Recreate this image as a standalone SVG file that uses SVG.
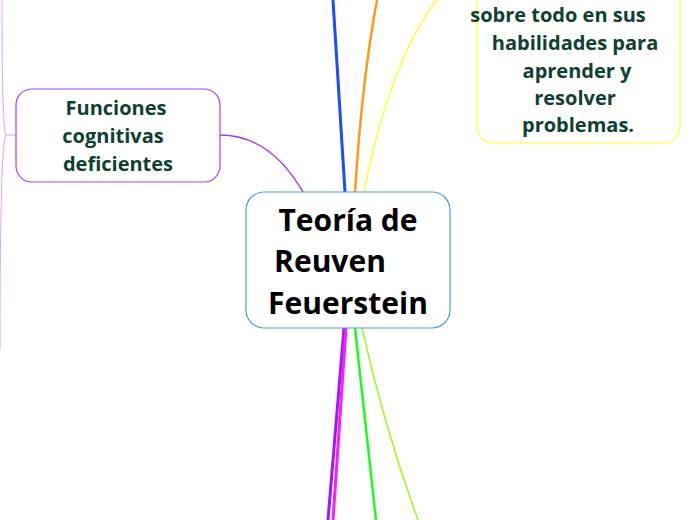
<svg xmlns="http://www.w3.org/2000/svg" width="697" height="520" viewBox="0 0 697 520">
<style>
.t{font-family:"Open Sans","Noto Sans",sans-serif;font-weight:bold;fill:#0d4131;text-anchor:middle}
.s{font-size:20px}
.b{font-size:30px;fill:#000}
.c{fill:none}
</style>
<rect width="697" height="520" fill="#fff"/>
<g id="connectors">
<path class="c" d="M345 192 L333 0" stroke="#1a4dff" stroke-width="3"/>
<path class="c" d="M355 192 Q362 80 377 0" stroke="#ff9a1a" stroke-width="2.5"/>
<path class="c" d="M364 192 Q390 60 437 0" stroke="#ffff33" stroke-width="1.5"/>
<path class="c" d="M303 192 Q270 135 220 135" stroke="#a840f0" stroke-width="1.5"/>
<path class="c" d="M344 328 L328 520" stroke="#9a1aff" stroke-width="3"/>
<path class="c" d="M346 328 L333 520" stroke="#ff1aff" stroke-width="3"/>
<path class="c" d="M355 328 L376 520" stroke="#1aff1a" stroke-width="2.5"/>
<path class="c" d="M362 328 Q385 430 418 520" stroke="#99ff1a" stroke-width="1.5"/>
<path class="c" d="M16 135 L6 135 Q2 130 2 0 M6 135 Q0 140 0 350" stroke="#d9a6f5" stroke-width="1"/>
</g>
<g id="central">
<rect x="246" y="192" width="204" height="136" rx="18" fill="#fff" stroke="#4a9ee0" stroke-width="1.2"/>
<text class="t b" x="348" y="231">Teoría de</text>
<text class="t b" x="330" y="272">Reuven</text>
<text class="t b" x="348" y="314">Feuerstein</text>
</g>
<g id="funciones">
<rect x="16" y="89" width="204" height="93" rx="16" fill="#fff" stroke="#a840f0" stroke-width="1.2"/>
<text class="t s" x="116" y="115">Funciones</text>
<text class="t s" x="113" y="143">cognitivas</text>
<text class="t s" x="118" y="171">deficientes</text>
</g>
<g id="texto">
<rect x="477" y="-20" width="203" height="163" rx="16" fill="#fff" stroke="#ffff33" stroke-width="1.2"/>
<text class="t s" x="558" y="22">sobre todo en sus</text>
<text class="t s" x="575" y="50">habilidades para</text>
<text class="t s" x="577" y="78">aprender y</text>
<text class="t s" x="575" y="105">resolver</text>
<text class="t s" x="578" y="132">problemas.</text>
</g>
</svg>
